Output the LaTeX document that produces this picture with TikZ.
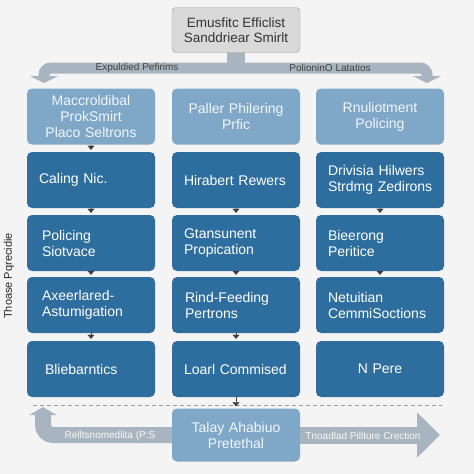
\documentclass[tikz,border=0pt]{standalone}
\usepackage{fontspec}
\setmainfont{Liberation Sans}
\usetikzlibrary{arrows.meta}
\definecolor{deepblue}{HTML}{2E6E9F}
\definecolor{paleblue}{HTML}{7FA7C8}
\definecolor{bandgray}{HTML}{A8B5C0}
\definecolor{pagegray}{HTML}{F4F4F4}
\definecolor{headgray}{HTML}{D9D9D9}

\begin{document}
\begin{tikzpicture}[x=1pt,y=-1pt,
  stage/.style={rectangle,rounded corners=5pt,fill=deepblue,text=white,
    minimum width=128pt,minimum height=56pt,text width=110pt,inner xsep=9pt,
    align=left,font=\fontsize{14}{16}\selectfont},
  entry/.style={stage,fill=paleblue,text=white!90!paleblue,align=center},
  headbox/.style={rectangle,rounded corners=4pt,fill=headgray,draw=black!38,
    minimum width=128pt,minimum height=45pt,align=center,text=black!80,
    font=\fontsize{13.5}{14.5}\selectfont},
  tick/.style={-{Triangle[width=7pt,length=4pt]},line width=0.2pt,draw=black!75,shorten >=2pt},
  topband/.style={bandgray,line width=11pt,rounded corners=7pt,-{Triangle[width=28pt,length=7pt]}},
  lowband/.style={bandgray,line width=16pt,rounded corners=10pt},
  bandtext/.style={font=\fontsize{10}{12}\selectfont,text=black!75},
  lowtext/.style={font=\fontsize{10}{12}\selectfont,text=white!92!bandgray}]

\useasboundingbox (0,0) rectangle (474,474);
\fill[pagegray] (0,0) rectangle (474,474);

% coordinates for free ends
\coordinate (fork) at (236,68);
\coordinate (lfoot) at (44,83);
\coordinate (rfoot) at (427,83);
\coordinate (dashl) at (33,405);
\coordinate (dashr) at (442,405);
\coordinate (backtip) at (43,407);
\coordinate (fwdtip) at (440,435);

\draw[black!40,line width=0.8pt,dash pattern=on 4pt off 3pt] (dashl) -- (dashr);

% top distribution band
\draw[topband] (fork) -| (lfoot);
\draw[topband] (fork) -| (rfoot);
\draw[bandgray,line width=18pt] (236,50) -- (fork);
\node[headbox] (head) at (236,30) {Emusfitc Efficlist\\Sanddriear Smirlt};
\node[bandtext] (lefttag) at (137,68) {Expuldied Pefirims};
\node[bandtext] (righttag) at (330,68) {PolioninO Latatios};

% first row
\node[entry] (a1) at (91,116.5) {Maccroldibal\\ProkSmirt\\Placo Seltrons};
\node[entry] (b1) at (236,116.5) {Paller Philering\\Prfic};
\node[entry] (c1) at (380,116.5) {Rnuliotment\\Policing};

% second row
\node[stage] (a2) at (91,180) {\hspace*{3pt}Caling Nic.};
\node[stage] (b2) at (236,180) {\hspace*{3pt}Hirabert Rewers};
\node[stage] (c2) at (380,180) {\hspace*{3pt}Drivisia Hilwers\\\hspace*{3pt}Strdmg Zedirons};

% third row
\node[stage] (a3) at (91,243) {\hspace*{6pt}Policing\\\hspace*{6pt}Siotvace};
\node[stage] (b3) at (236,243) {\hspace*{3pt}Gtansunent\\\hspace*{3pt}Propication};
\node[stage] (c3) at (380,243) {\hspace*{3pt}Bieerong\\\hspace*{3pt}Peritice};

% fourth row
\node[stage] (a4) at (91,305) {\hspace*{6pt}Axeerlared-\\\hspace*{6pt}Astumigation};
\node[stage] (b4) at (236,305) {\hspace*{4pt}Rind-Feeding\\\hspace*{4pt}Pertrons};
\node[stage] (c4) at (380,305) {\hspace*{3pt}Netuitian\\\hspace*{3pt}CemmiSoctions};

% fifth row
\node[stage] (a5) at (91,369) {\hspace*{9pt}Bliebarntics};
\node[stage] (b5) at (236,369) {\hspace*{3pt}Loarl Commised};
\node[stage,align=center] (c5) at (380,369) {N Pere};

\draw[tick] (a1) -- (a2);
\draw[tick] (a2) -- (a3);
\draw[tick] (b2) -- (b3);
\draw[tick] (c2) -- (c3);
\draw[tick] (a3) -- (a4);
\draw[tick] (b3) -- (b4);
\draw[tick] (c3) -- (c4);
\draw[tick] (a4) -- (a5);
\draw[tick] (b4) -- (b5);

% bottom stage and return arrows
\node[entry,minimum height=53pt] (recap) at (236,435) {Talay Ahabiuo\\Pretethal};
\draw[tick] (b5) -- (recap);
\draw[lowband,-{Triangle[width=27pt,length=8pt]}] (recap.west) -| (backtip);
\draw[lowband,line width=17pt,-{Triangle[width=44pt,length=23pt]}] (recap.east) -- (fwdtip);
\node[lowtext] (backtag) at (110,436) {Relltsnomedlita (P:S};
\node[lowtext] (fwdtag) at (363,436) {Tnoadlad Pillture Crection};

\node[rotate=90,font=\fontsize{11}{13}\selectfont,text=black!85] (side) at (9,276) {Thoase Pqrecidie};
\end{tikzpicture}
\end{document}
